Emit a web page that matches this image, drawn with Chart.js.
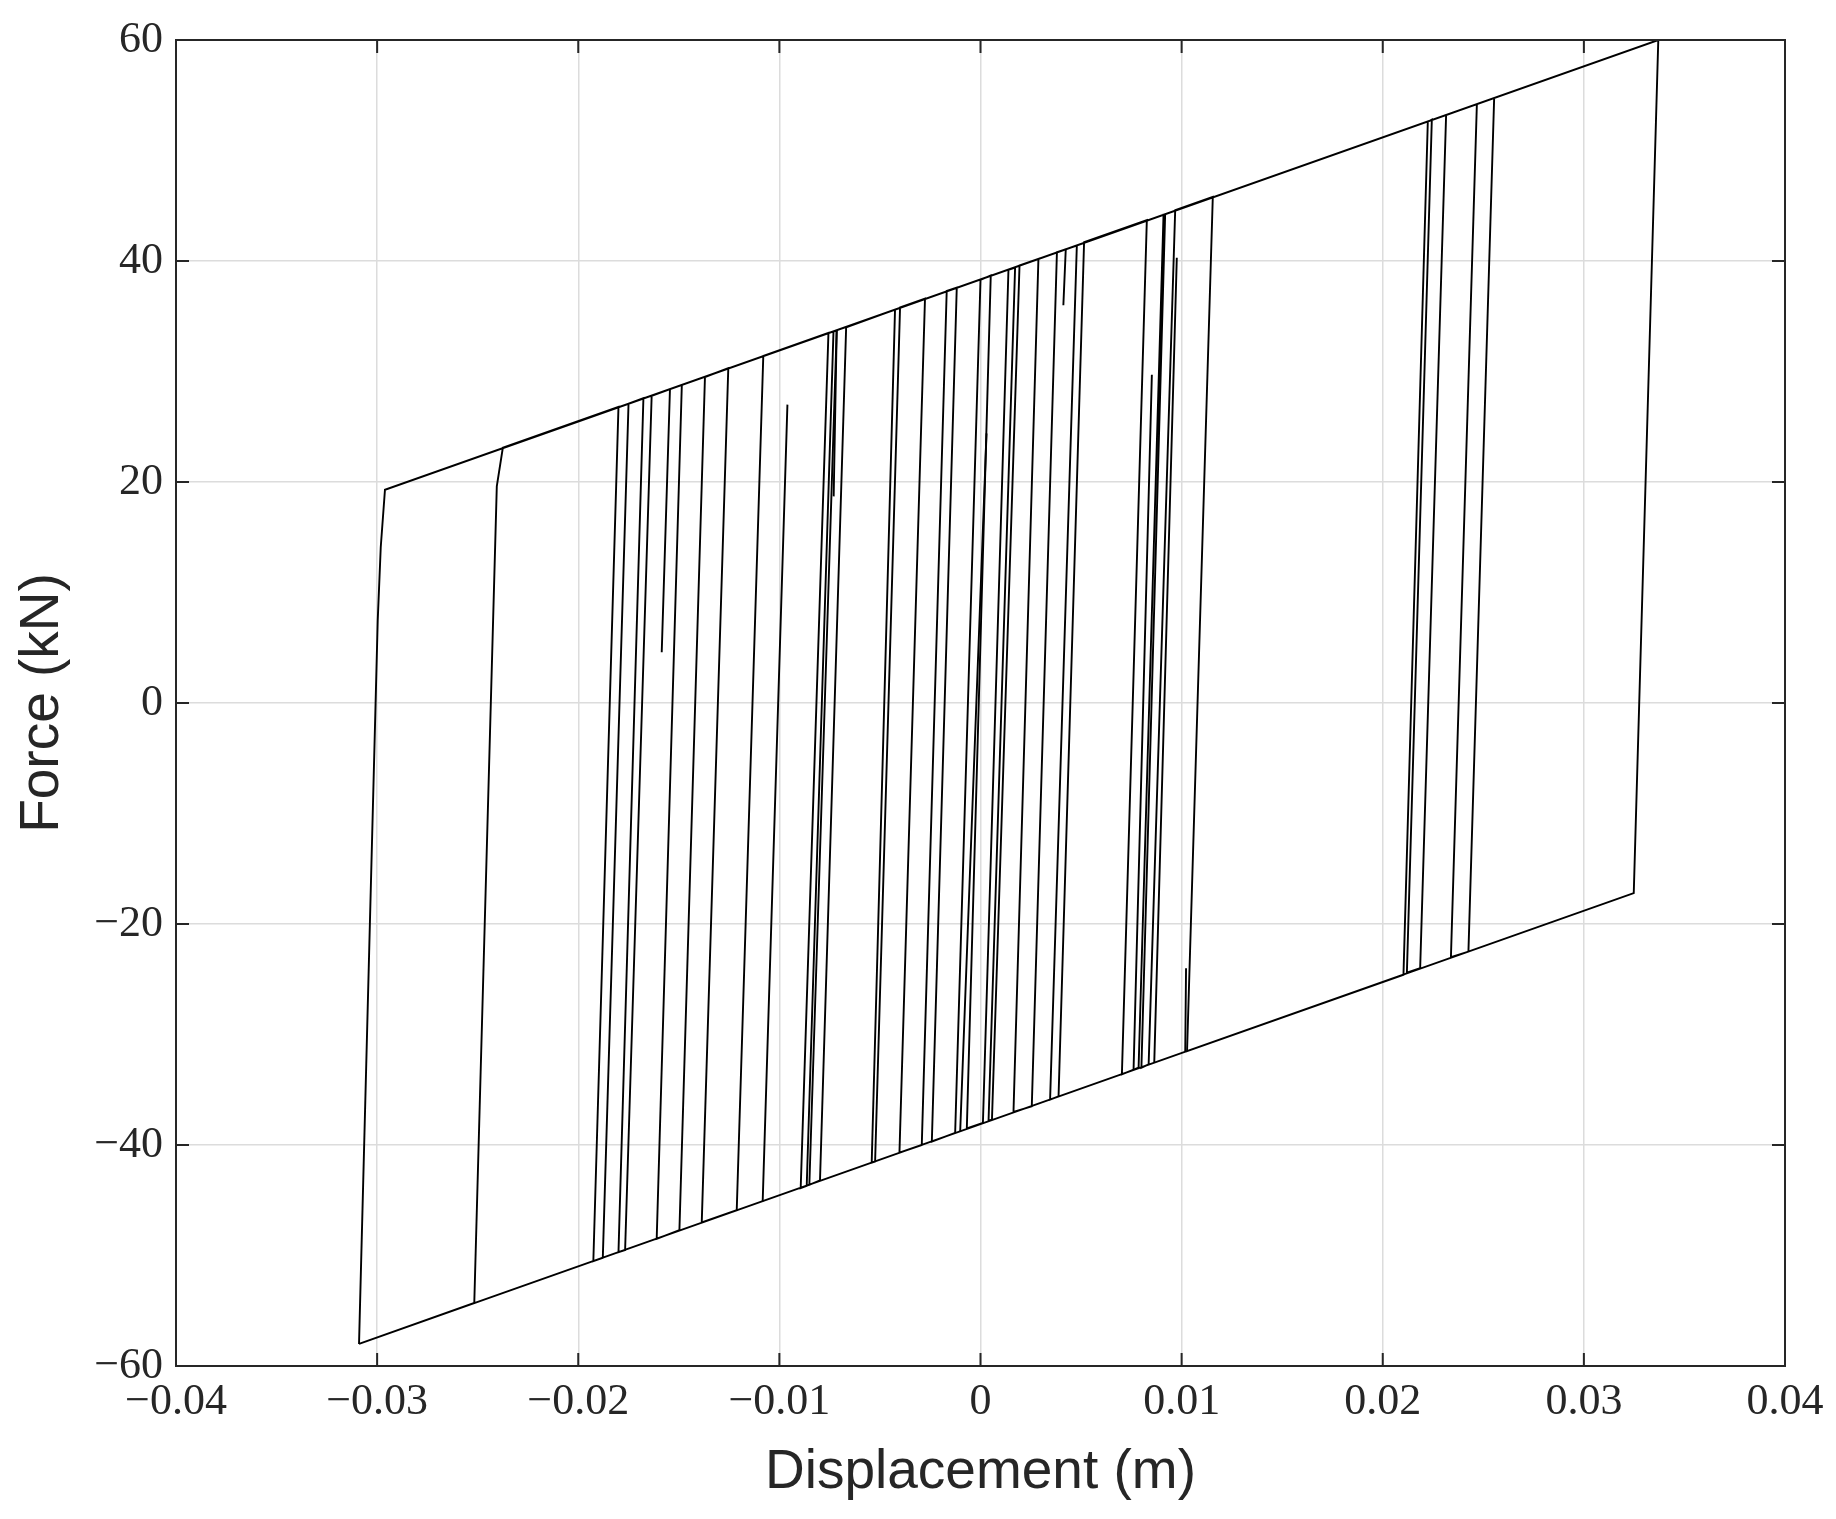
<!DOCTYPE html>
<html>
<head>
<meta charset="utf-8">
<script src="https://cdn.jsdelivr.net/npm/chart.js@4.4.1/dist/chart.umd.min.js"></script>
<style>
  html, body { margin: 0; padding: 0; background: #fff; }
  #wrap { width: 1836px; height: 1519px; }
</style>
</head>
<body>
<div id="wrap"><canvas id="grafica"></canvas></div>
<script>
// tick values and labels
var xTicks = [-0.04, -0.03, -0.02, -0.01, 0, 0.01, 0.02, 0.03, 0.04];
var xTickLabels = ['\u22120.04', '\u22120.03', '\u22120.02', '\u22120.01', '0', '0.01', '0.02', '0.03', '0.04'];
var yTicks = [-60, -40, -20, 0, 20, 40, 60];
var yTickLabels = ['\u221260', '\u221240', '\u221220', '0', '20', '40', '60'];

// outer loop + first left branch (m, kN)
var loopX = [-0.0309, -0.02997, -0.02982, -0.02961, 0.0337, 0.03248, -0.0309, -0.02517, -0.02405, -0.02375];
var loopY = [-58, 7.5, 14.1, 19.3, 60, -17.2, -58, -54.3, 19.6, 23.1];

// elastic branches between the lower and the upper bound
var branchLowX = [-0.01925, -0.01878, -0.0180, -0.01767, -0.0161, -0.01497, -0.01386, -0.01212, -0.00894, -0.00864,
  -0.00851, -0.00798, -0.00541, -0.00524, -0.00403, -0.00292, -0.00242, -0.00126, -0.00068, 0.00012,
  0.0004, 0.00057, 0.00164, 0.00255, 0.00346, 0.00388, 0.00703, 0.00786, 0.0080, 0.00836,
  0.01027, 0.02103, 0.0212, 0.02186, 0.02339, 0.02426];
var branchLowY = [-50.5, -50.2, -49.7, -49.5, -48.5, -47.7, -47.0, -45.9, -43.9, -43.7,
  -43.6, -43.2, -41.6, -41.5, -40.7, -40.0, -39.7, -38.9, -38.5, -38.0,
  -37.8, -37.7, -37.0, -36.5, -35.9, -35.6, -33.6, -33.0, -33.0, -32.7,
  -31.5, -24.6, -24.4, -24.0, -23.0, -22.5];
var branchHighX = [-0.0180, -0.0175, -0.01676, -0.01635, -0.01485, -0.0137, -0.01254, -0.0108, -0.00756, -0.00731,
  -0.00715, -0.00668, -0.00425, -0.0040, -0.00276, -0.00168, -0.00118, 0.0000, 0.00051, 0.00139,
  0.00172, 0.00194, 0.00288, 0.0038, 0.00479, 0.00515, 0.00827, 0.0091, 0.00918, 0.00968,
  0.01155, 0.02224, 0.02244, 0.02315, 0.02468, 0.02554];
var branchHighY = [26.8, 27.1, 27.6, 27.8, 28.8, 29.5, 30.3, 31.4, 33.5, 33.6,
  33.7, 34.0, 35.6, 35.8, 36.6, 37.3, 37.6, 38.3, 38.7, 39.2,
  39.4, 39.6, 40.2, 40.8, 41.4, 41.7, 43.7, 44.2, 44.2, 44.6,
  45.8, 52.6, 52.8, 53.2, 54.2, 54.8];

// partial reversals: start on a bound, turn back inside
var revBaseX = [-0.01544, -0.00715, 0.00424, -0.01083, -0.00101, 0.00761, 0.00864, 0.01018];
var revBaseY = [28.4, 33.7, 41.1, -45.1, -38.8, -33.2, -32.5, -31.5];
var revTipX = [-0.01585, -0.0073, 0.00412, -0.0096, 0.0003, 0.00852, 0.00976, 0.01022];
var revTipY = [4.6, 18.7, 36.0, 27.0, 24.4, 29.7, 40.3, -24.0];

var ctx, chart;

function armarCamino() {
	var pts = [];
	for (var i = 0; i < loopX.length; i++) {
		pts.push({x: loopX[i], y: loopY[i]});
	}
	for (var j = 0; j < branchLowX.length; j++) {
		if (j % 2 == 0) {
			pts.push({x: branchHighX[j], y: branchHighY[j]});
			pts.push({x: branchLowX[j], y: branchLowY[j]});
		} else {
			pts.push({x: branchLowX[j], y: branchLowY[j]});
			pts.push({x: branchHighX[j], y: branchHighY[j]});
		}
	}
	return pts;
}

function armarReversas() {
	var pts = [];
	for (var i = 0; i < revBaseX.length; i++) {
		pts.push({x: revBaseX[i], y: revBaseY[i]});
		pts.push({x: revTipX[i], y: revTipY[i]});
		pts.push({x: revBaseX[i], y: null});
	}
	return pts;
}

// box and inward tick marks, MATLAB style
var cajaPlugin = {
	id: 'caja',
	afterDraw: function(c) {
		var a = c.chartArea, g = c.ctx;
		var sx = c.scales.x, sy = c.scales.y;
		g.save();
		g.strokeStyle = '#262626';
		g.lineWidth = 2;
		g.beginPath();
		xTicks.forEach(function(v) {
			var px = sx.getPixelForValue(v);
			g.moveTo(px, a.bottom); g.lineTo(px, a.bottom - 13);
			g.moveTo(px, a.top); g.lineTo(px, a.top + 13);
		});
		yTicks.forEach(function(v) {
			var py = sy.getPixelForValue(v);
			g.moveTo(a.left, py); g.lineTo(a.left + 13, py);
			g.moveTo(a.right, py); g.lineTo(a.right - 13, py);
		});
		g.stroke();
		g.strokeRect(a.left, a.top, a.right - a.left, a.bottom - a.top);
		g.restore();
	}
};

ctx = document.getElementById('grafica').getContext('2d');
chart = new Chart(ctx, {
	type: 'scatter',
	data: {
		datasets: [{
			data: armarCamino(),
			showLine: true,
			borderColor: '#000000',
			borderWidth: 1.9,
			pointRadius: 0,
			tension: 0
		}, {
			data: armarReversas(),
			showLine: true,
			spanGaps: false,
			borderColor: '#000000',
			borderWidth: 1.9,
			pointRadius: 0,
			tension: 0
		}]
	},
	options: {
		responsive: true,
		maintainAspectRatio: false,
		animation: false,
		devicePixelRatio: 1,
		layout: { padding: { left: 0, right: 51, top: 40, bottom: 0 } },
		plugins: { legend: { display: false }, tooltip: { enabled: false } },
		scales: {
			x: {
				type: 'linear',
				min: -0.04,
				max: 0.04,
				afterBuildTicks: function(s) { s.ticks = xTicks.map(function(v) { return {value: v}; }); },
				afterFit: function(s) { s.height = 153; },
				grid: { color: '#dcdcdc', lineWidth: 1.5, drawTicks: false },
				border: { display: false },
				ticks: {
					padding: 10,
					color: '#262626',
					font: { family: 'Liberation Serif', size: 44 },
					maxRotation: 0,
					callback: function(v) { return xTickLabels[xTicks.indexOf(v)]; }
				},
				title: {
					display: true,
					text: 'Displacement (m)',
					color: '#262626',
					font: { family: 'Liberation Sans', size: 55 },
					padding: { top: 0, bottom: 13 }
				}
			},
			y: {
				type: 'linear',
				min: -60,
				max: 60,
				afterBuildTicks: function(s) { s.ticks = yTicks.map(function(v) { return {value: v}; }); },
				afterFit: function(s) { s.width = 176; },
				grid: { color: '#dcdcdc', lineWidth: 1.5, drawTicks: false },
				border: { display: false },
				ticks: {
					padding: 13,
					color: '#262626',
					font: { family: 'Liberation Serif', size: 44 },
					callback: function(v) { return yTickLabels[yTicks.indexOf(v)]; }
				},
				title: {
					display: true,
					text: 'Force (kN)',
					color: '#262626',
					font: { family: 'Liberation Sans', size: 55 },
					padding: { top: 10, bottom: 0 }
				}
			}
		}
	},
	plugins: [cajaPlugin]
});
</script>
</body>
</html>
